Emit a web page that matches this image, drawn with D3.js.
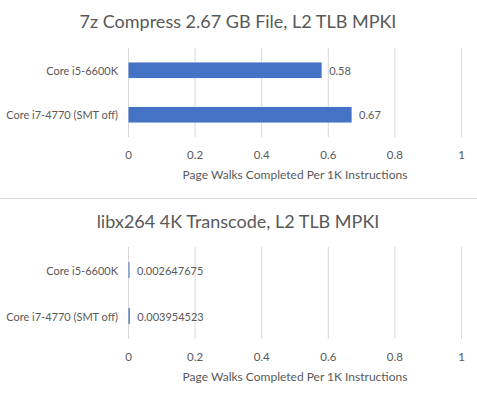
<!DOCTYPE html>
<html><head><meta charset="utf-8">
<script src="https://cdn.jsdelivr.net/npm/d3@7"></script>
<style>
body{margin:0;background:#fff;}
text{font-family:Lato,"Open Sans",sans-serif;fill:#595959;}
</style></head>
<body><svg id="c" width="477" height="399"></svg>
<script>
const categories = ["Core i5-6600K", "Core i7-4770 (SMT off)"];
const titles = ["7z Compress 2.67 GB File, L2 TLB MPKI", "libx264 4K Transcode, L2 TLB MPKI"];
const valuesCompress = [0.58, 0.67];
const labelsCompress = ["0.58", "0.67"];
const valuesTranscode = [0.002647675, 0.003954523];
const labelsTranscode = ["0.002647675", "0.003954523"];
const xTicks = [0, 0.2, 0.4, 0.6, 0.8, 1];
const tickLabels = ["0", "0.2", "0.4", "0.6", "0.8", "1"];
const axisTitle = "Page Walks Completed Per 1K Instructions";

const svg = d3.select("#c");
const x = d3.scaleLinear().domain([0, 1]).range([128, 461]);

function drawChart(oy, title, values, labels, gridTop, gridBottom) {
  const g = svg.append("g").attr("transform", `translate(0,${oy})`);
  g.append("text").attr("x", 238).attr("y", 21).attr("text-anchor", "middle")
    .attr("dominant-baseline", "central").style("font-size", "18px").text(title);
  const y = d3.scaleBand().domain(categories).range([gridTop, gridBottom]).paddingInner(0.65).paddingOuter(0.325);
  g.selectAll(".grid").data(xTicks).enter().append("line")
    .attr("x1", d => x(d) + 0.5).attr("x2", d => x(d) + 0.5)
    .attr("y1", gridTop).attr("y2", gridBottom)
    .attr("stroke", "#d9d9d9").attr("stroke-width", 1);
  g.selectAll(".bar").data(values).enter().append("rect")
    .attr("x", x(0) + 0.5).attr("y", (d, i) => y(categories[i]))
    .attr("width", d => Math.max(1, x(d) - x(0))).attr("height", y.bandwidth())
    .attr("fill", "#4472c4");
  g.selectAll(".lab").data(values).enter().append("text")
    .attr("x", d => x(d) + 8).attr("y", (d, i) => y(categories[i]) + y.bandwidth() / 2)
    .attr("dominant-baseline", "central").style("font-size", "11px").text((d, i) => labels[i]);
  g.selectAll(".cat").data(categories).enter().append("text")
    .attr("x", 118).attr("y", d => y(d) + y.bandwidth() / 2).attr("text-anchor", "end")
    .attr("dominant-baseline", "central").style("font-size", "11px").text(d => d);
  g.selectAll(".tick").data(xTicks).enter().append("text")
    .attr("x", d => x(d) + 0.5).attr("y", gridBottom + 17).attr("text-anchor", "middle")
    .attr("dominant-baseline", "central").style("font-size", "11.5px").text((d, i) => tickLabels[i]);
  g.append("text").attr("x", x(0.5) + 0.5).attr("y", gridBottom + 37).attr("text-anchor", "middle")
    .attr("dominant-baseline", "central").style("font-size", "12px").text(axisTitle);
}

drawChart(0, titles[0], valuesCompress, labelsCompress, 48, 137);
svg.append("line").attr("x1", 0).attr("x2", 477).attr("y1", 198.5).attr("y2", 198.5)
  .attr("stroke", "#d9d9d9").attr("stroke-width", 1);
drawChart(200, titles[1], valuesTranscode, labelsTranscode, 47, 139);
</script></body></html>
